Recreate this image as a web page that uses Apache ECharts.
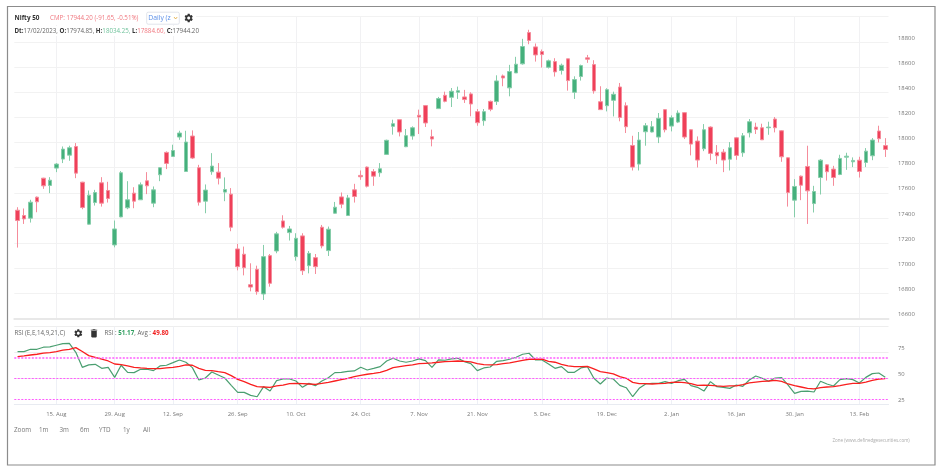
<!DOCTYPE html>
<html>
<head>
<meta charset="utf-8">
<title>Nifty 50</title>
<script src="https://cdn.jsdelivr.net/npm/echarts@6/dist/echarts.min.js"></script>
<style>
  html, body { margin: 0; padding: 0; background: #fff; }
  #main { width: 940px; height: 471px; }
</style>
</head>
<body>
<div id="main"></div>
<script>
var dates = [
  "2022-08-04","2022-08-05","2022-08-08","2022-08-10","2022-08-11","2022-08-12","2022-08-16","2022-08-17","2022-08-18","2022-08-19",
  "2022-08-22","2022-08-23","2022-08-24","2022-08-25","2022-08-26","2022-08-29","2022-08-30","2022-09-01","2022-09-02","2022-09-05",
  "2022-09-06","2022-09-07","2022-09-08","2022-09-09","2022-09-12","2022-09-13","2022-09-14","2022-09-15","2022-09-16","2022-09-19",
  "2022-09-20","2022-09-21","2022-09-22","2022-09-23","2022-09-26","2022-09-27","2022-09-28","2022-09-29","2022-09-30","2022-10-03",
  "2022-10-04","2022-10-06","2022-10-07","2022-10-10","2022-10-11","2022-10-12","2022-10-13","2022-10-14","2022-10-17","2022-10-18",
  "2022-10-19","2022-10-20","2022-10-21","2022-10-24","2022-10-25","2022-10-27","2022-10-28","2022-10-31","2022-11-01","2022-11-02",
  "2022-11-03","2022-11-04","2022-11-07","2022-11-09","2022-11-10","2022-11-11","2022-11-14","2022-11-15","2022-11-16","2022-11-17",
  "2022-11-18","2022-11-21","2022-11-22","2022-11-23","2022-11-24","2022-11-25","2022-11-28","2022-11-29","2022-11-30","2022-12-01",
  "2022-12-02","2022-12-05","2022-12-06","2022-12-07","2022-12-08","2022-12-09","2022-12-12","2022-12-13","2022-12-14","2022-12-15",
  "2022-12-16","2022-12-19","2022-12-20","2022-12-21","2022-12-22","2022-12-23","2022-12-26","2022-12-27","2022-12-28","2022-12-29",
  "2022-12-30","2023-01-02","2023-01-03","2023-01-04","2023-01-05","2023-01-06","2023-01-09","2023-01-10","2023-01-11","2023-01-12",
  "2023-01-13","2023-01-16","2023-01-17","2023-01-18","2023-01-19","2023-01-20","2023-01-23","2023-01-24","2023-01-25","2023-01-27",
  "2023-01-30","2023-01-31","2023-02-01","2023-02-02","2023-02-03","2023-02-06","2023-02-07","2023-02-08","2023-02-09","2023-02-10",
  "2023-02-13","2023-02-14","2023-02-15","2023-02-16","2023-02-17"
];

// open, close, low, high
var candles = [
  [17461,17379,17164,17485],[17419,17392,17352,17475],[17398,17525,17363,17544],[17565,17528,17445,17570],[17716,17655,17631,17719],
  [17658,17700,17597,17724],[17796,17828,17764,17836],[17868,17947,17836,17968],[17899,17958,17854,17974],[17968,17756,17716,17995],
  [17684,17483,17469,17687],[17350,17581,17347,17618],[17522,17602,17498,17623],[17679,17517,17490,17724],[17618,17554,17522,17687],
  [17185,17312,17166,17379],[17408,17759,17405,17772],[17480,17544,17469,17692],[17597,17533,17477,17644],[17544,17663,17544,17682],
  [17695,17655,17589,17764],[17517,17623,17485,17650],[17743,17799,17692,17804],[17921,17833,17788,17929],[17889,17936,17884,17982],
  [18043,18075,18021,18093],[17769,18003,17766,18093],[18051,17876,17868,18096],[17799,17525,17498,17822],[17533,17621,17437,17666],
  [17767,17812,17743,17915],[17764,17716,17666,17836],[17605,17626,17533,17722],[17589,17326,17294,17637],[17153,17012,16983,17193],
  [17111,17004,16943,17172],[16869,16850,16816,17039],[16991,16813,16789,17020],[16795,17092,16747,17185],[17100,16880,16853,17113],
  [17137,17273,17119,17289],[17376,17326,17315,17421],[17283,17312,17220,17336],[17092,17238,17060,17278],[17257,16980,16946,17278],
  [17020,17118,16959,17137],[17084,17012,16954,17113],[17326,17177,17158,17344],[17140,17310,17097,17331],[17437,17485,17434,17527],
  [17567,17509,17477,17602],[17419,17559,17416,17583],[17623,17570,17522,17671],[17738,17727,17703,17777],[17804,17652,17642,17809],
  [17769,17732,17655,17788],[17759,17791,17727,17836],[17905,18017,17902,18022],[18128,18149,18062,18181],[18181,18083,18048,18181],
  [17966,18054,17963,18107],[18051,18117,18022,18128],[18216,18202,18067,18261],[18293,18155,18123,18298],[18046,18027,17969,18102],
  [18269,18349,18266,18362],[18375,18327,18319,18404],[18359,18407,18282,18433],[18399,18412,18346,18444],[18362,18341,18314,18418],
  [18386,18306,18208,18399],[18245,18157,18133,18266],[18173,18245,18133,18266],[18327,18264,18248,18333],[18325,18489,18298,18534],
  [18529,18513,18447,18540],[18434,18564,18367,18617],[18553,18622,18553,18681],[18625,18763,18619,18824],[18874,18811,18781,18896],
  [18760,18696,18643,18787],[18723,18699,18596,18739],[18598,18649,18588,18659],[18643,18561,18524,18670],[18572,18614,18540,18627],
  [18665,18492,18412,18665],[18399,18500,18346,18526],[18524,18611,18492,18619],[18673,18662,18633,18696],[18619,18410,18388,18654],
  [18324,18261,18258,18447],[18292,18420,18247,18431],[18335,18383,18207,18404],[18441,18199,18168,18473],[18292,18125,18075,18319],
  [17976,17804,17777,18053],[17828,18019,17777,18083],[18085,18133,17974,18154],[18083,18125,18080,18170],[18043,18192,17995,18234],
  [18261,18101,18080,18266],[18130,18197,18088,18215],[18162,18234,18154,18255],[18237,18043,18027,18242],[18101,17987,17897,18106],
  [18011,17860,17801,18048],[17950,18101,17931,18146],[18122,17913,17859,18128],[17921,17894,17828,17979],[17923,17860,17764,17947],
  [17867,17958,17777,18003],[18037,17897,17862,18043],[17918,18053,17886,18075],[18077,18165,18040,18186],[18122,18104,18067,18157],
  [18117,18021,18019,18149],[18117,18122,18061,18165],[18186,18117,18080,18202],[18093,17886,17846,18099],[17878,17602,17490,17881],
  [17541,17650,17405,17708],[17732,17660,17541,17737],[17809,17615,17352,17974],[17514,17610,17443,17655],[17721,17859,17586,17867],
  [17822,17767,17697,17828],[17788,17721,17655,17814],[17745,17873,17740,17902],[17883,17891,17782,17918],[17846,17857,17804,17881],
  [17859,17769,17721,17886],[17841,17931,17804,17955],[17894,18019,17859,18035],[18091,18030,18000,18133],[17974.85,17944.2,17884.6,18034.25]
];

var rsiLine = [
  75.9,75.9,78.1,78.1,80.1,80.4,82.0,83.6,83.9,75.2,60.7,63.0,63.6,59.7,60.7,51.0,62.7,55.9,55.6,58.8,
  58.8,57.5,62.0,62.7,65.2,67.8,65.6,60.4,48.5,50.4,56.2,53.3,50.4,43.3,36.5,36.5,33.6,32.3,42.0,37.8,
  47.8,49.4,49.4,47.5,41.4,45.2,43.0,47.5,50.7,55.6,55.9,56.8,57.2,60.7,58.1,59.7,61.4,66.8,69.4,66.8,
  65.6,66.8,68.8,67.2,60.7,67.8,67.5,68.8,69.4,66.2,64.3,57.5,60.1,61.0,66.5,67.2,68.5,70.4,73.3,74.3,
  67.8,67.8,63.9,59.7,61.4,55.9,55.9,60.1,61.4,50.1,44.6,50.4,49.4,43.3,41.0,32.3,40.4,44.6,45.2,45.2,
  46.9,45.2,47.8,49.1,43.0,41.4,37.8,46.9,42.0,41.4,40.4,43.6,42.3,48.5,52.3,50.1,47.2,50.4,50.7,43.6,
  35.6,37.5,37.8,36.9,47.2,44.6,42.7,48.8,49.8,48.8,45.6,51.0,54.6,55.2,51.17
];

var rsiAvg = [
  71.0,71.7,72.6,73.3,74.3,74.9,75.9,77.2,78.1,79.7,75.9,72.0,70.4,68.5,66.8,63.9,63.3,62.0,60.7,60.1,
  59.7,59.4,59.4,60.1,60.7,61.7,63.0,62.7,59.7,57.8,57.5,56.5,55.6,52.7,49.1,46.9,44.3,42.0,41.7,41.4,
  42.7,43.6,44.9,45.2,44.9,44.6,44.3,45.2,46.2,47.5,48.8,50.1,51.7,53.0,54.0,54.9,55.9,57.8,60.4,61.4,
  62.3,63.0,64.3,64.6,64.9,65.6,66.2,66.5,66.8,66.5,65.9,64.3,63.3,63.0,63.3,64.3,64.9,66.2,67.5,68.5,
  68.5,68.5,66.5,65.6,63.6,62.0,61.4,61.4,61.7,59.1,56.5,55.6,54.3,51.7,50.1,46.2,44.9,44.9,44.6,44.9,
  45.2,46.2,46.5,45.9,44.9,43.3,43.6,43.3,42.7,42.3,42.7,42.7,44.0,45.6,46.5,47.2,47.5,48.1,47.2,44.6,
  43.0,41.7,40.4,39.8,41.0,41.7,42.0,43.0,44.3,45.2,45.2,46.5,48.1,49.4,49.8
];

var tickDates = ["2022-08-16","2022-08-29","2022-09-12","2022-09-26","2022-10-10","2022-10-24","2022-11-07","2022-11-21","2022-12-05","2022-12-19","2023-01-02","2023-01-16","2023-01-30","2023-02-13"];
var tickLabels = ["15. Aug","29. Aug","12. Sep","26. Sep","10. Oct","24. Oct","7. Nov","21. Nov","5. Dec","19. Dec","2. Jan","16. Jan","30. Jan","13. Feb"];
var rsiBands = [70, 50, 30];

var fontName = "Open Sans";
var greenCol = "#45b07c";
var redCol = "#ef4059";
var gearPath = "M19.14 12.94c.04-.3.06-.61.06-.94 0-.32-.02-.64-.07-.94l2.03-1.58a.49.49 0 0 0 .12-.61l-1.92-3.32a.488.488 0 0 0-.59-.22l-2.39.96c-.5-.38-1.03-.7-1.62-.94l-.36-2.54a.484.484 0 0 0-.48-.41h-3.84c-.24 0-.43.17-.47.41l-.36 2.54c-.59.24-1.13.57-1.62.94l-2.39-.96c-.22-.08-.47 0-.59.22L2.74 8.87c-.12.21-.08.47.12.61l2.03 1.58c-.05.3-.09.63-.09.94s.02.64.07.94l-2.03 1.58a.49.49 0 0 0-.12.61l1.92 3.32c.12.22.37.29.59.22l2.39-.96c.5.38 1.03.7 1.62.94l.36 2.54c.05.24.24.41.48.41h3.84c.24 0 .44-.17.47-.41l.36-2.54c.59-.24 1.13-.56 1.62-.94l2.39.96c.22.08.47 0 .59-.22l1.92-3.32c.12-.22.07-.47-.12-.61l-2.01-1.58zM12 15.6c-1.98 0-3.6-1.62-3.6-3.6s1.62-3.6 3.6-3.6 3.6 1.62 3.6 3.6-1.62 3.6-3.6 3.6z";
var trashPath = "M6 19c0 1.1.9 2 2 2h8c1.1 0 2-.9 2-2V7H6v12zM19 4h-3.5l-1-1h-5l-1 1H5v2h14V4z";

echarts.graphic.registerShape("gearIcon", echarts.graphic.extendPath(gearPath, {}));
echarts.graphic.registerShape("trashIcon", echarts.graphic.extendPath(trashPath, {}));

function isTick(index) {
  return tickDates.indexOf(dates[index]) >= 0;
}

function label(x, y, text, size, color, weight) {
  return {
    type: "text",
    x: x,
    y: y,
    silent: true,
    style: { text: text, font: (weight || "normal") + " " + size + "px '" + fontName + "'", fill: color, textVerticalAlign: "middle" }
  };
}

function richLabel(x, y, text, rich) {
  return {
    type: "text",
    x: x,
    y: y,
    silent: true,
    style: { text: text, rich: rich, fontFamily: fontName, fontSize: 6.2, textVerticalAlign: "middle" }
  };
}

function icon(kind, x, y, size) {
  return {
    type: kind,
    silent: true,
    x: x,
    y: y,
    scaleX: size / 24,
    scaleY: size / 24,
    style: { fill: "#333" }
  };
}

// white patch behind the header rows so the grid does not run through the text
function patch(x, y, w, h) {
  return { type: "rect", silent: true, shape: { x: x, y: y, width: w, height: h }, style: { fill: "#fff" } };
}

var rangeButtons = [["Zoom",14],["1m",39],["3m",59.5],["6m",80],["YTD",99],["1y",123],["All",143]];

var graphics = [
  { type: "rect", silent: true, shape: { x: 7.5, y: 6.5, width: 927.5, height: 458.5 }, style: { fill: "none", stroke: "#8c8c8c", lineWidth: 1.2 } },
  patch(13, 11, 183, 14),
  patch(13, 26, 195, 10),
  label(14.5, 18, "Nifty 50", 6.4, "#333", "bold"),
  label(50, 18, "CMP: 17944.20 (-91.65, -0.51%)", 6.2, "#f0777f"),
  { type: "rect", silent: true, shape: { x: 146.7, y: 12.2, width: 32.6, height: 12, r: 1.5 }, style: { fill: "#fff", stroke: "#d9dde6", lineWidth: 0.8 } },
  label(148.3, 18.4, "Daily (z", 6.8, "#5b8fe8"),
  { type: "polyline", silent: true, shape: { points: [[174, 17], [175.6, 19], [177.2, 17]] }, style: { fill: "none", stroke: "#e0a83a", lineWidth: 0.8 } },
  icon("gearIcon", 183.5, 12.8, 10.4),
  richLabel(14.5, 31, "{b|Dt:}{n|17/02/2023, }{b|O:}{n|17974.85, }{b|H:}{g|18034.25, }{b|L:}{r|17884.60, }{b|C:}{n|17944.20}", {
    b: { fontFamily: fontName, fontSize: 6.2, fontWeight: "bold", fill: "#333" },
    n: { fontFamily: fontName, fontSize: 6.2, fill: "#666" },
    g: { fontFamily: fontName, fontSize: 6.2, fill: "#6fc29b" },
    r: { fontFamily: fontName, fontSize: 6.2, fill: "#f0777f" }
  }),
  label(14.5, 333.2, "RSI (E,E,14,9,21,C)", 6.2, "#666"),
  icon("gearIcon", 73.3, 328.3, 10),
  icon("trashIcon", 88.5, 327.8, 11),
  richLabel(104.5, 333.2, "{n|RSI : }{g|51.17}{n|, Avg : }{r|49.80}", {
    n: { fontFamily: fontName, fontSize: 6.2, fill: "#666" },
    g: { fontFamily: fontName, fontSize: 6.2, fontWeight: "bold", fill: "#2f9e5f" },
    r: { fontFamily: fontName, fontSize: 6.2, fontWeight: "bold", fill: "#f01c1c" }
  }),
  label(832.5, 440.3, "Zone (www.definedgesecurities.com)", 4.5, "#aaa")
];
rangeButtons.forEach(function(b) {
  graphics.push(label(b[1], 430.5, b[0], 6.3, "#777"));
});
// keep the header above the axis split lines
graphics.forEach(function(g, i) {
  g.z = 100 + i;
});

var myChart = echarts.init(document.getElementById("main"));

var option = {
  animation: false,
  backgroundColor: "#fff",
  textStyle: { fontFamily: fontName },
  grid: [
    { left: 14.3, right: 51.5, top: 16.7, height: 301.8 },
    { left: 14.3, right: 51.5, top: 326.6, height: 77.7 }
  ],
  xAxis: [
    {
      type: "category",
      gridIndex: 0,
      data: dates,
      axisLine: { show: true, lineStyle: { color: "#e8e8e8", width: 2 } },
      axisTick: { show: false },
      axisLabel: { show: false },
      splitLine: { show: true, alignWithLabel: true, interval: isTick, lineStyle: { color: "#f1f1f3", width: 1 } }
    },
    {
      type: "category",
      gridIndex: 1,
      data: dates,
      axisLine: { show: true, lineStyle: { color: "#e8ebf1", width: 1 } },
      axisTick: { show: false },
      axisLabel: {
        interval: isTick,
        margin: 7,
        fontSize: 5.9,
        color: "#777",
        formatter: function(value) {
          return tickLabels[tickDates.indexOf(value)];
        }
      },
      splitLine: { show: true, alignWithLabel: true, interval: isTick, lineStyle: { color: "#eef0f6", width: 1 } }
    }
  ],
  yAxis: [
    {
      type: "value",
      gridIndex: 0,
      position: "right",
      min: 16600,
      max: 19000,
      interval: 200,
      axisLine: { show: false },
      axisTick: { show: false },
      axisLabel: {
        margin: 9.5,
        fontSize: 5.9,
        color: "#777",
        verticalAlign: "bottom",
        lineHeight: 8,
        formatter: function(v) {
          return v === 19000 ? "" : String(v);
        }
      },
      splitLine: { lineStyle: { color: "#f2f2f2", width: 1 } }
    },
    {
      type: "value",
      gridIndex: 1,
      position: "right",
      min: 25,
      max: 100,
      interval: 25,
      axisLine: { show: false },
      axisTick: { show: false },
      axisLabel: {
        margin: 9.5,
        fontSize: 5.9,
        color: "#777",
        verticalAlign: "bottom",
        lineHeight: 8,
        formatter: function(v) {
          return v === 100 ? "" : String(v);
        }
      },
      splitLine: { lineStyle: { color: "#eeeeee", width: 1 } }
    }
  ],
  series: [
    {
      name: "Nifty 50",
      type: "candlestick",
      xAxisIndex: 0,
      yAxisIndex: 0,
      data: candles,
      barWidth: 4,
      itemStyle: {
        color: greenCol,
        color0: redCol,
        borderColor: "#86cdaa",
        borderColor0: "#f58c9b",
        borderWidth: 1
      }
    },
    {
      name: "RSI",
      type: "line",
      xAxisIndex: 1,
      yAxisIndex: 1,
      data: rsiLine,
      symbol: "none",
      lineStyle: { color: "#4a9f70", width: 1.2 },
      markLine: {
        silent: true,
        symbol: "none",
        label: { show: false },
        data: rsiBands.map(function(v) {
          return {
            yAxis: v,
            lineStyle: { color: "#ff5cff", type: [2, 1.5], width: v === 70 ? 1.6 : 1 }
          };
        })
      }
    },
    {
      name: "Avg",
      type: "line",
      xAxisIndex: 1,
      yAxisIndex: 1,
      data: rsiAvg,
      symbol: "none",
      z: 3,
      lineStyle: { color: "#f91f1f", width: 1.3 }
    }
  ],
  graphic: graphics
};

myChart.setOption(option);
</script>
</body>
</html>
